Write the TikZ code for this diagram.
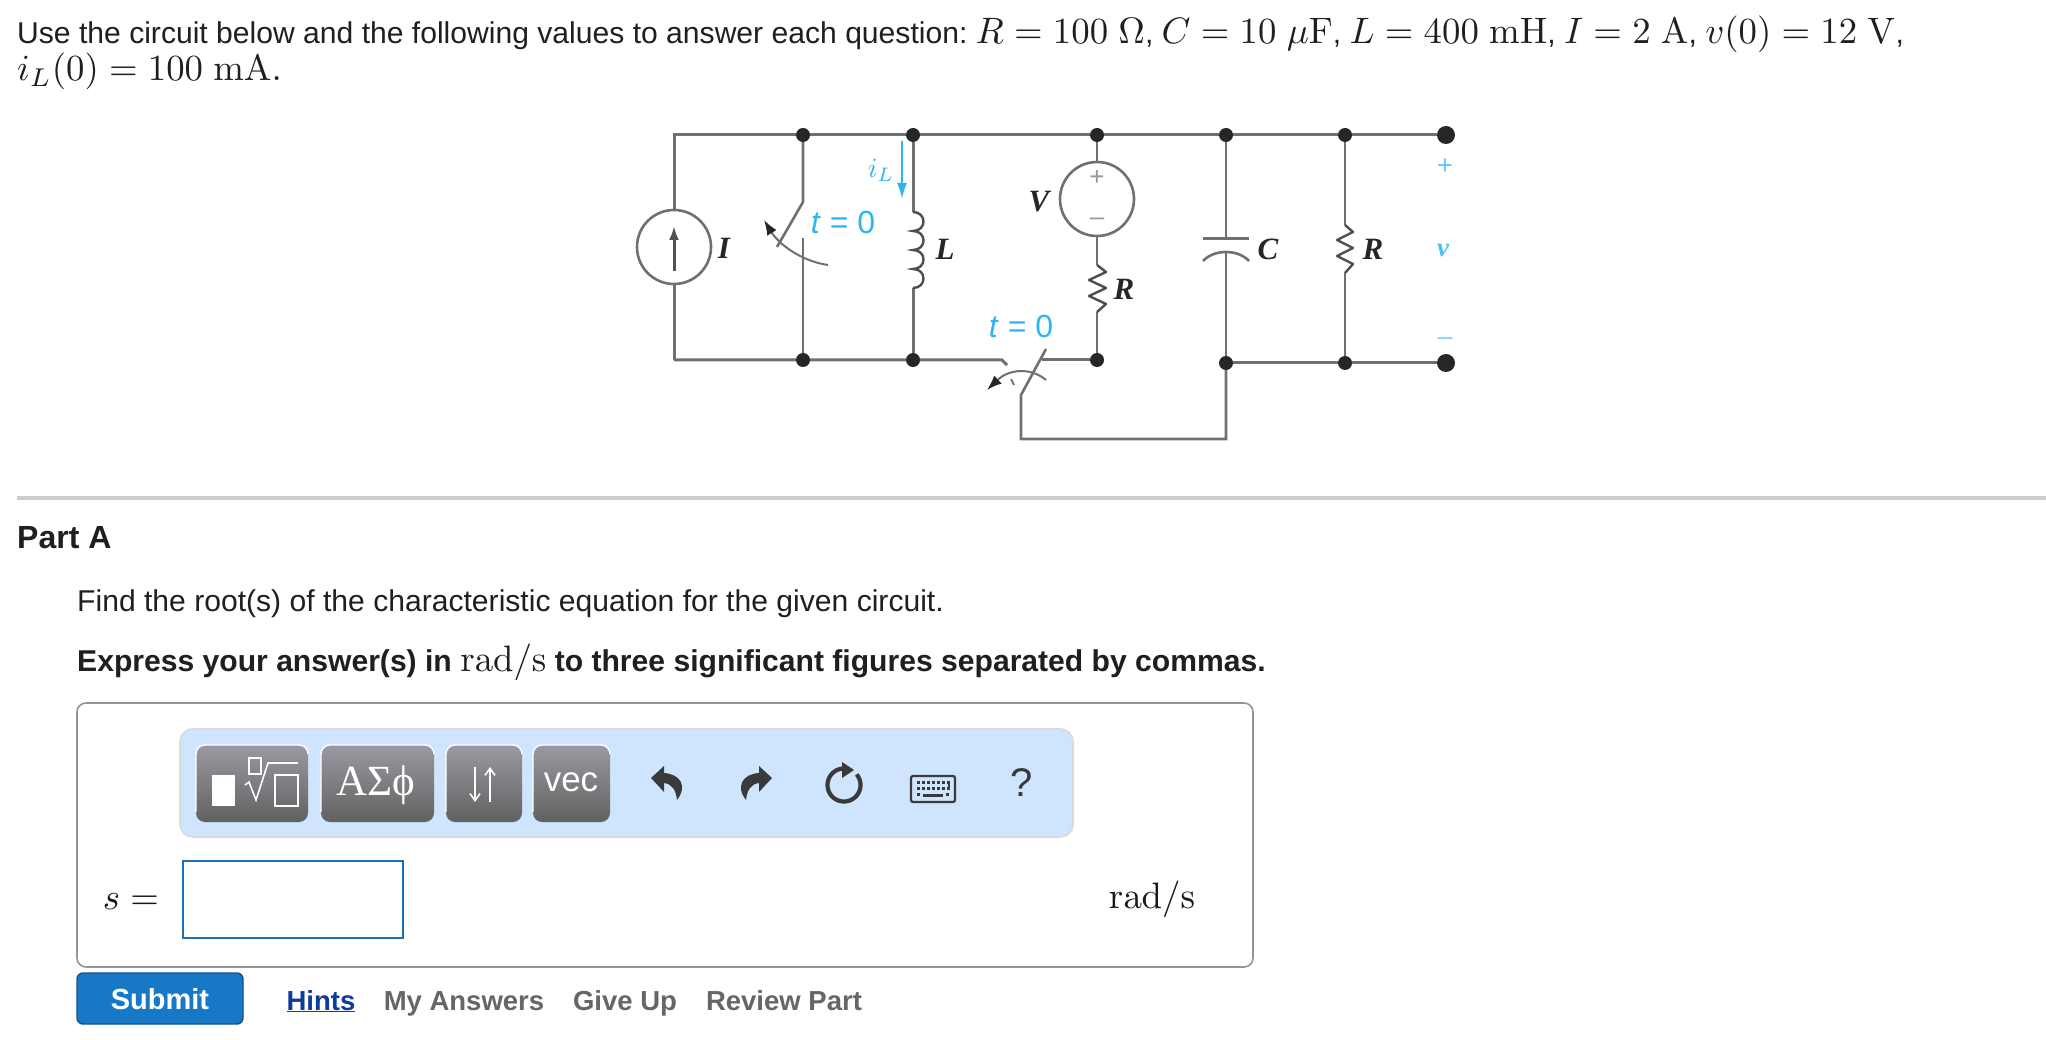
\documentclass[tikz,border=0pt]{standalone}
\usepackage[no-math]{fontspec}
\setmainfont{Liberation Sans}
\newfontfamily\srf{Liberation Serif}
\usetikzlibrary{arrows.meta}
\definecolor{wire}{HTML}{707070}
\definecolor{dotc}{HTML}{262626}
\definecolor{cy}{HTML}{2DB6F2}
\definecolor{bar}{HTML}{CFE4FD}
\definecolor{subm}{HTML}{1878C8}
\definecolor{inbox}{HTML}{1B6FB5}
\definecolor{lnk}{HTML}{0B3C9E}
\definecolor{gtxt}{HTML}{666666}
\definecolor{ico}{HTML}{3A3A3A}
\definecolor{ButtonTop}{HTML}{9B99A1}
\definecolor{ButtonBot}{HTML}{616161}
\newcommand{\mm}[1]{\scalebox{3.68}{\normalsize\mdseries$#1$}}
\tikzset{
 wr/.style={draw=wire,line width=3pt},
 wn/.style={draw=wire,line width=2.6pt},
 jn/.style={circle,fill=dotc,inner sep=0pt,minimum size=14pt},
 tm/.style={circle,fill=dotc,inner sep=0pt,minimum size=18pt},
 src/.style={circle,draw=wire,line width=2.6pt,fill=white,inner sep=0pt,minimum size=74pt},
 lab/.style={inner sep=0pt,font=\fontsize{31}{31}\selectfont\srf\bfseries\itshape,text=black!85},
 cyl/.style={inner sep=0pt,text=cy,font=\fontsize{32}{32}\selectfont},
 txt/.style={inner sep=0pt,anchor=base west,font=\fontsize{30.1}{36}\selectfont,text=black!88},
 foot/.style={inner sep=0pt,anchor=base,text=gtxt,font=\fontsize{27.5}{27.5}\selectfont\bfseries},
 ic/.style={fill=ico,draw=none},
}
\begin{document}
\begin{tikzpicture}[x=1pt,y=-1pt]
\useasboundingbox (0,0) rectangle (2046,1040);
\fill[white] (0,0) rectangle (2046,1040);
% header text
\node[txt] (q1) at (17,44) {Use the circuit below and the following values to answer each question:\hspace{-3pt} \mm{R=100~\Omega}, \mm{C=10~\mu\mathrm{F}}, \mm{L=400~\mathrm{mH}}, \mm{I=2~\mathrm{A}}, \mm{v(0)=12~\mathrm{V}},};
\node[txt] (q2) at (17,81) {\mm{i_L(0)=100~\mathrm{mA}.}};
% circuit coordinates
\coordinate (tl) at (674,135); \coordinate (bl) at (674,360);
\node[jn] (n1) at (803,135) {}; \node[jn] (n2) at (913,135) {};
\node[jn] (n3) at (1097,135) {}; \node[jn] (n4) at (1226,135) {};
\node[jn] (n5) at (1345,135) {}; \node[tm] (tp) at (1446,135) {};
\node[jn] (b1) at (803,360) {}; \node[jn] (b2) at (913,360) {};
\node[jn] (b3) at (1097,360) {}; \node[jn] (b4) at (1226,363) {};
\node[jn] (b5) at (1345,363) {}; \node[tm] (bp) at (1446,363) {};
\draw[wr] (bl) -- (tl) -- (n1) -- (n2) -- (n3) -- (n4) -- (n5) -- (tp);
\draw[wr] (bl) -- (b1) -- (b2) -- (1002,360) -- ++(5,5);
\draw[wr] (b4) -- (b5) -- (bp);
% current source
\node[src] (is) at (674,247) {};
\coordinate (ia) at (674,271); \coordinate (ib) at (674,226);
\draw[wr,-{Latex[length=14pt,width=10pt]},draw=dotc!80] (ia) -- (ib);
\node[lab] (li) at (724,248) {I};
% top switch
\coordinate (s1) at (803,202); \coordinate (s2) at (777,247); \coordinate (s3) at (803,238);
\draw[wn] (n1) -- (s1) -- (s2);
\draw[wn] (s3) -- (b1);
\coordinate (a1) at (828,265); \coordinate (a2) at (764,220);
\draw[draw=wire,line width=2pt,-{Latex[length=15pt,width=11pt,color=dotc]}] (a1) .. controls (800,261) and (778,243) .. (a2);
\node[cyl] (t1) at (843,222) {\textit{t} = 0};
% iL
\coordinate (ca) at (902,141); \coordinate (cb) at (902,199);
\draw[cy,line width=2pt,-{Latex[length=16pt,width=10pt]}] (ca) -- (cb);
\node[cyl] (il) at (881,170) {\scalebox{2.8}{\normalsize$i_L$}};
% inductor
\coordinate (l1) at (913,212); \coordinate (l2) at (913,288);
\draw[wr] (n2) -- (l1);
\draw[wr] (l2) -- (b2);
\draw[draw=wire!70!black,line width=2.4pt] (l1)
 .. controls (927,212) and (927,231) .. (913,231)
 .. controls (927,231) and (927,250) .. (913,250)
 .. controls (927,250) and (927,269) .. (913,269)
 .. controls (927,269) and (927,288) .. (l2);
\node[lab] (ll) at (945,249) {L};
% voltage source branch
\node[src] (vs) at (1097,199) {};
\draw[wn] (n3) -- (vs);
\node[inner sep=0pt,text=gray!80,font=\fontsize{26}{26}\selectfont] (vp) at (1097,178) {+};
\node[inner sep=0pt,text=gray!80,font=\fontsize{26}{26}\selectfont] (vm) at (1097,222) {–};
\node[lab] (lv) at (1039,202) {V};
\coordinate (r1) at (1097,265); \coordinate (r2) at (1097,312);
\draw[wn] (vs) -- (r1);
\draw[wn] (r2) -- (b3);
\draw[draw=wire!70!black,line width=2.4pt,line join=round] (r1) -- ++(9,7) -- ++(-17,8) -- ++(17,8) -- ++(-17,8) -- ++(17,8) -- (r2);
\node[lab] (lr1) at (1124,289) {R};
% capacitor
\coordinate (c1) at (1226,239); \coordinate (c2) at (1226,252);
\draw[wn] (n4) -- (c1);
\draw[wn] (c2) -- (b4);
\coordinate (cp1) at (1203,239); \coordinate (cp2) at (1249,239);
\coordinate (cq1) at (1203,261); \coordinate (cq2) at (1249,261);
\draw[wr] (cp1) -- (cp2);
\draw[wn] (cq1) .. controls (1214,249) and (1238,249) .. (cq2);
\node[lab] (lc) at (1268,249) {C};
% right resistor
\coordinate (r3) at (1345,225); \coordinate (r4) at (1345,273);
\draw[wn] (n5) -- (r3);
\draw[wn] (r4) -- (b5);
\draw[draw=wire!70!black,line width=2.4pt,line join=round] (r3) -- ++(8,7) -- ++(-16,8) -- ++(16,8) -- ++(-16,8) -- ++(16,8) -- (r4);
\node[lab] (lr2) at (1373,249) {R};
% output marks
\node[cyl,font=\fontsize{27}{27}\selectfont,text=cy!75] (op) at (1445,167) {+};
\node[cyl,font=\fontsize{27}{27}\selectfont\srf\bfseries\itshape,text=cy!85] (ov) at (1443,250) {v};
\node[cyl,font=\fontsize{27}{27}\selectfont,text=cy!60] (om) at (1445,342) {–};
% lower switch
\coordinate (u1) at (1046,349); \coordinate (u2) at (1021,395); \coordinate (u3) at (1021,439); \coordinate (u4) at (b4 |- u3);
\coordinate (u5) at (1042,360);
\draw[wr] (u5) -- (b3);
\draw[wn] (u1) -- (u2) -- (u3) -- (u4) -- (b4);
\draw[draw=wire,line width=1.8pt] (1011,379) -- (1014,385);
\coordinate (w1) at (1046,380); \coordinate (w2) at (987,390);
\draw[draw=wire,line width=2pt,-{Latex[length=15pt,width=11pt,color=dotc]}] (w1) .. controls (1032,368) and (1010,368) .. (w2);
\node[cyl] (t2) at (1021,326) {\textit{t} = 0};
% separator
\coordinate (sa) at (17,498); \coordinate (sb) at (2046,498);
\draw[draw=black!20,line width=4pt] (sa) -- (sb);
\node[txt,font=\fontsize{32}{36}\selectfont\bfseries] (pa) at (17,548) {Part A};
\node[txt] (fd) at (77,611) {Find the root(s) of the characteristic equation for the given circuit.};
\node[txt,font=\fontsize{30.1}{36}\selectfont\bfseries] (ex) at (77,671) {Express your answer(s) in \mm{\mathrm{rad}/\mathrm{s}} to three significant figures separated by commas.};
% answer panel
\draw[draw=black!42,line width=1.6pt,rounded corners=9pt] (77,703) rectangle (1253,967);
\draw[fill=bar,draw=black!14,line width=2pt,rounded corners=13pt] (180,729) rectangle (1073,837);
\foreach \a/\b in {196/308,321/434,446/522,533/610}{
  \shade[top color=ButtonTop,bottom color=ButtonBot,rounded corners=9pt] (\a,745) rectangle (\b,822);
  \draw[white,line width=1.4pt,rounded corners=9pt] (\a,812) -- (\a,745) -- (\b,745) -- (\b,752);
}
\fill[white] (212,775) rectangle (235,806);
\draw[white,line width=1.4pt] (249,758) rectangle (261,774);
\draw[white,line width=1.4pt] (275,775) rectangle (298,806);
\draw[white,line width=1.6pt] (245,785) -- (249,782) -- (256,800) -- (268,763) -- (298,763);
\node[inner sep=0pt,text=white,font=\fontsize{43}{43}\selectfont\srf] (g) at (376,785) {ΑΣϕ};
\draw[white,line width=1.6pt,-{Straight Barb[length=7pt,width=10pt]}] (475,767) -- (475,802);
\draw[white,line width=1.6pt,-{Straight Barb[length=7pt,width=10pt]}] (490,802) -- (490,767);
\node[inner sep=0pt,text=white,font=\fontsize{35}{35}\selectfont] (vec) at (571,782) {vec};
% undo / redo
\fill[ic] (651,778) -- (664,766) -- (664,773) .. controls (680,774) and (688,786) .. (677,800) .. controls (676,790) and (672,784) .. (664,783) -- (664,792) -- cycle;
\fill[ic] (772,778) -- (759,766) -- (759,773) .. controls (743,774) and (735,786) .. (746,800) .. controls (747,790) and (751,784) .. (759,783) -- (759,792) -- cycle;
% reload
\draw[ico,line width=4.2pt] plot[domain=95:400,samples=50] ({844+16.5*cos(\x)},{785-16.5*sin(\x)});
\fill[ic] (842,762) -- (854,770) -- (842,778) -- cycle;
% keyboard
\draw[ico,line width=2.2pt,rounded corners=2pt] (911,776) rectangle (955,802);
\foreach \k in {917,922,927,932,937,942,947}{\fill[ico] (\k,781) rectangle ++(2.6,2.6);}
\foreach \k in {917,922,927,932,937,942,947}{\fill[ico] (\k,787) rectangle ++(2.6,2.6);}
\fill[ico] (917,793) rectangle ++(3,3);
\fill[ico] (923,794) rectangle (943,796.5);
\fill[ico] (946,793) rectangle ++(3,3);
\fill[ico] (948,781) rectangle (950,790);
\node[inner sep=0pt,text=ico,font=\fontsize{40}{40}\selectfont] (qm) at (1022,783) {?};
% answer row
\node[inner sep=0pt,anchor=base,text=black!90] (se) at (131,909) {\mm{s=}};
\draw[fill=white,draw=inbox,line width=2.2pt] (183,861) rectangle (403,938);
\node[inner sep=0pt,anchor=base,text=black!90] (un) at (1152,908) {\mm{\mathrm{rad}/\mathrm{s}}};
% footer
\draw[fill=subm,draw=subm!70!black,line width=1.4pt,rounded corners=6pt] (77,973) rectangle (243,1024);
\node[inner sep=0pt,anchor=base,text=white,font=\fontsize{29}{29}\selectfont\bfseries] (sub) at (160,1009) {Submit};
\node[foot,text=lnk] (hi) at (321,1010) {\underline{Hints}};
\node[foot] (my) at (464,1010) {My Answers};
\node[foot] (gu) at (625,1010) {Give Up};
\node[foot] (rv) at (784,1010) {Review Part};
\end{tikzpicture}
\end{document}
